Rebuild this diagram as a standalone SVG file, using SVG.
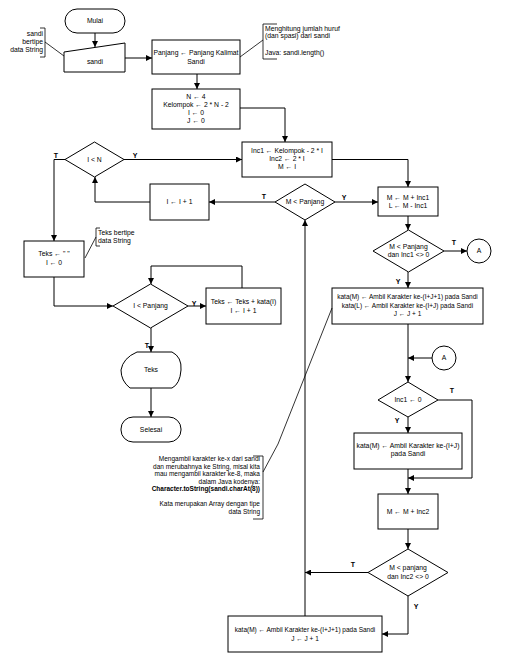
<svg xmlns="http://www.w3.org/2000/svg" width="514" height="653" viewBox="0 0 514 653">
<defs>
<marker id="arr" markerWidth="6" markerHeight="6" refX="6" refY="3" orient="auto" markerUnits="userSpaceOnUse">
<path d="M0,0 L6,3 L0,6 z" fill="#000"/>
</marker>
<style>
.s{fill:#fff;stroke:#000;stroke-width:1}
.c{fill:none;stroke:#000;stroke-width:1;marker-end:url(#arr)}
.n{fill:none;stroke:#000;stroke-width:0.8}
text{font-family:"Liberation Sans",Arial,sans-serif;font-size:6.8px;fill:#000}
.m{text-anchor:middle}
.r{text-anchor:end}
.b{font-weight:bold}
.l{font-weight:bold;font-size:7px}
.sm{font-size:6.5px}
</style>
</defs>
<rect width="514" height="653" fill="#fff"/>

<g id="connectors">
<path class="c" d="M95,33 V47"/>
<path class="c" d="M125,58 H152"/>
<path class="c" d="M197,74 V89"/>
<path class="c" d="M240,108 H285 V142"/>
<path class="c" d="M124,159.5 H242"/>
<path class="c" d="M65,159.5 H54 V241"/>
<path class="c" d="M150,202 H95 V177"/>
<path class="c" d="M275,202 H209"/>
<path class="c" d="M335,202 H378"/>
<path class="c" d="M332,159.5 H408 V187"/>
<path class="c" d="M408,216 V230"/>
<path class="c" d="M444,251 H467"/>
<path class="c" d="M408,272 V288"/>
<path class="c" d="M408,324 V382"/>
<path class="c" d="M432,358 H408"/>
<path class="c" d="M408,417 V433"/>
<path class="c" d="M438,400 H472 V478 H408"/>
<path class="c" d="M408,469 V494"/>
<path class="c" d="M408,529 V549"/>
<path class="c" d="M368,572.5 H305"/>
<path class="c" d="M408,596 V634 H382"/>
<path class="c" d="M305,616 V220"/>
<path class="c" d="M54,277 V306 H113"/>
<path class="c" d="M188,306 H206"/>
<path class="c" d="M242,288 V266 H151 V284"/>
<path class="c" d="M151,328 V352"/>
<path class="c" d="M151,388 V417"/>
<text class="l" x="56" y="157.5" text-anchor="middle">T</text>
<text class="l" x="135" y="157.5" text-anchor="middle">Y</text>
<text class="l" x="264" y="198.5" text-anchor="middle">T</text>
<text class="l" x="344" y="199.5" text-anchor="middle">Y</text>
<text class="l" x="454" y="244.5" text-anchor="middle">T</text>
<text class="l" x="398" y="283.5" text-anchor="middle">Y</text>
<text class="l" x="452" y="392.5" text-anchor="middle">T</text>
<text class="l" x="397" y="422.5" text-anchor="middle">Y</text>
<text class="l" x="353" y="566.5" text-anchor="middle">T</text>
<text class="l" x="416" y="608.5" text-anchor="middle">Y</text>
<text class="l" x="194" y="305.5" text-anchor="middle">Y</text>
<text class="l" x="147" y="347.5" text-anchor="middle">T</text>
</g>

<g id="mulai">
<rect class="s" x="65" y="9" width="60" height="24" rx="12"/>
<text class="m" x="95" y="23.3">Mulai</text>
</g>

<g id="input-sandi">
<polygon class="s" points="64,52 125,43 125,72 64,72"/>
<text class="m" x="95" y="64.3">sandi</text>
</g>

<g id="note-sandi">
<path class="n" d="M40,28 H45 V57 H40"/>
<path class="n" d="M45,42 L64,56"/>
<text class="r" x="43" y="35.5">sandi</text>
<text class="r" x="43" y="44">bertipe</text>
<text class="r" x="43" y="52.3">data String</text>
</g>

<g id="panjang">
<rect class="s" x="152" y="40" width="88" height="34"/>
<text class="m" x="196" y="55.3">Panjang ← Panjang Kalimat</text>
<text class="m" x="196" y="64.3">Sandi</text>
</g>

<g id="note-panjang">
<path class="n" d="M277,24 H263 V59 H277"/>
<path class="n" d="M240,57 L263,40"/>
<text x="265" y="30.8">Menghitung jumlah huruf</text>
<text x="265" y="38.3">(dan spasi) dari sandi</text>
<text x="265" y="55.3">Java: sandi.length()</text>
</g>

<g id="init">
<rect class="s" x="152" y="89" width="88" height="40"/>
<text class="m" x="196" y="99.3">N ← 4</text>
<text class="m" x="196" y="107.3">Kelompok ← 2 * N - 2</text>
<text class="m" x="196" y="115.3">I ← 0</text>
<text class="m" x="196" y="123.3">J ← 0</text>
</g>

<g id="dec-i-n">
<polygon class="s" points="65,159.5 94.5,142 124,159.5 94.5,177"/>
<text class="m" x="94.5" y="161.8">I &lt; N</text>
</g>

<g id="inc">
<rect class="s" x="242" y="142" width="90" height="35"/>
<text class="m" x="287" y="153.3">Inc1 ← Kelompok - 2 * I</text>
<text class="m" x="287" y="161.3">Inc2 ← 2 * I</text>
<text class="m" x="287" y="169.3">M ← I</text>
</g>

<g id="i-plus">
<rect class="s" x="150" y="184" width="59" height="36"/>
<text class="m" x="179.5" y="204.3">I ← I + 1</text>
</g>

<g id="dec-m-panjang">
<polygon class="s" points="275,202 305,184 335,202 305,220"/>
<text class="m" x="305" y="204.3">M &lt; Panjang</text>
</g>

<g id="m-inc1">
<rect class="s" x="378" y="187" width="60" height="29"/>
<text class="m" x="408" y="200.3">M ← M + Inc1</text>
<text class="m" x="408" y="208.3">L ← M - Inc1</text>
</g>

<g id="dec-inc1">
<polygon class="s" points="373,251 408.5,230 444,251 408.5,272"/>
<text class="m" x="408.5" y="249.3">M &lt; Panjang</text>
<text class="m" x="408.5" y="257.3">dan Inc1 &lt;&gt; 0</text>
</g>

<g id="conn-a1">
<circle class="s" cx="479" cy="251" r="12"/>
<text class="m" x="479" y="253.3">A</text>
</g>

<g id="kata-ml">
<rect class="s" x="332" y="288" width="151" height="36"/>
<text class="m sm" x="407.5" y="299.3">kata(M) ← Ambil Karakter ke-(I+J+1) pada Sandi</text>
<text class="m sm" x="407.5" y="307.8">kata(L) ← Ambil Karakter ke-(I+J) pada Sandi</text>
<text class="m sm" x="407.5" y="316.3">J ←  J + 1</text>
</g>

<g id="conn-a2">
<circle class="s" cx="444" cy="358" r="12"/>
<text class="m" x="444" y="360.3">A</text>
</g>

<g id="dec-inc1-zero">
<polygon class="s" points="378,400 408,382 438,400 408,417"/>
<text class="m" x="408" y="402.3">Inc1 ← 0</text>
</g>

<g id="kata-m">
<rect class="s" x="354" y="433" width="108" height="36"/>
<text class="m" x="408" y="448.3">kata(M) ← Ambil Karakter ke-(I+J)</text>
<text class="m" x="408" y="456.3">pada Sandi</text>
</g>

<g id="m-inc2">
<rect class="s" x="378" y="494" width="60" height="35"/>
<text class="m" x="408" y="513.8">M ←  M + Inc2</text>
</g>

<g id="dec-inc2">
<polygon class="s" points="368,572.5 408,549 448,572.5 408,596"/>
<text class="m" x="408" y="570.3">M &lt; panjang</text>
<text class="m" x="408" y="579.3">dan Inc2 &lt;&gt; 0</text>
</g>

<g id="kata-m2">
<rect class="s" x="228" y="616" width="154" height="36"/>
<text class="m sm" x="305" y="632.3">kata(M) ← Ambil Karakter ke-(I+J+1) pada Sandi</text>
<text class="m sm" x="305" y="640.8">J ← J + 1</text>
</g>

<g id="note-kata">
<path class="n" d="M253,456 H263 V519 H253"/>
<path class="n" d="M332,308 L278,444 L263,472"/>
<text class="r sm" x="260" y="461.3">Mengambil karakter ke-x dari sandi</text>
<text class="r sm" x="260" y="468.8">dan merubahnya ke String, misal kita</text>
<text class="r sm" x="260" y="476.3">mau mengambil karakter ke-8, maka</text>
<text class="r sm" x="260" y="483.8">dalam Java kodenya:</text>
<text class="r b sm" x="260" y="491.3">Character.toString(sandi.charAt(8))</text>
<text class="r sm" x="260" y="506.3">Kata merupakan Array dengan tipe</text>
<text class="r sm" x="260" y="513.8">data String</text>
</g>

<g id="teks-init">
<rect class="s" x="24" y="241" width="60" height="36"/>
<text class="m" x="54" y="256.3">Teks ← " "</text>
<text class="m" x="54" y="265.3">I ← 0</text>
</g>

<g id="note-teks">
<path class="n" d="M100,228 H96 V246 H100"/>
<path class="n" d="M85,258 L96,237"/>
<text x="98" y="235.3">Teks bertipe</text>
<text x="98" y="243.3">data String</text>
</g>

<g id="dec-i-panjang">
<polygon class="s" points="113,306 150.5,284 188,306 150.5,328"/>
<text class="m" x="150.5" y="308.3">I &lt; Panjang</text>
</g>

<g id="teks-add">
<rect class="s" x="206" y="288" width="75" height="36"/>
<text class="m" x="243.5" y="304.3">Teks ← Teks + kata(I)</text>
<text class="m" x="243.5" y="313.3">I ← I + 1</text>
</g>

<g id="teks-out">
<path class="s" d="M137,352 H172 Q182,357 181,370 Q180,384 172,388 H130 Q121,381 121,370 Q123,358 137,352 Z"/>
<text class="m" x="151" y="372.3">Teks</text>
</g>

<g id="selesai">
<rect class="s" x="121" y="417" width="60" height="25" rx="12"/>
<text class="m" x="151" y="431.8">Selesai</text>
</g>
</svg>
